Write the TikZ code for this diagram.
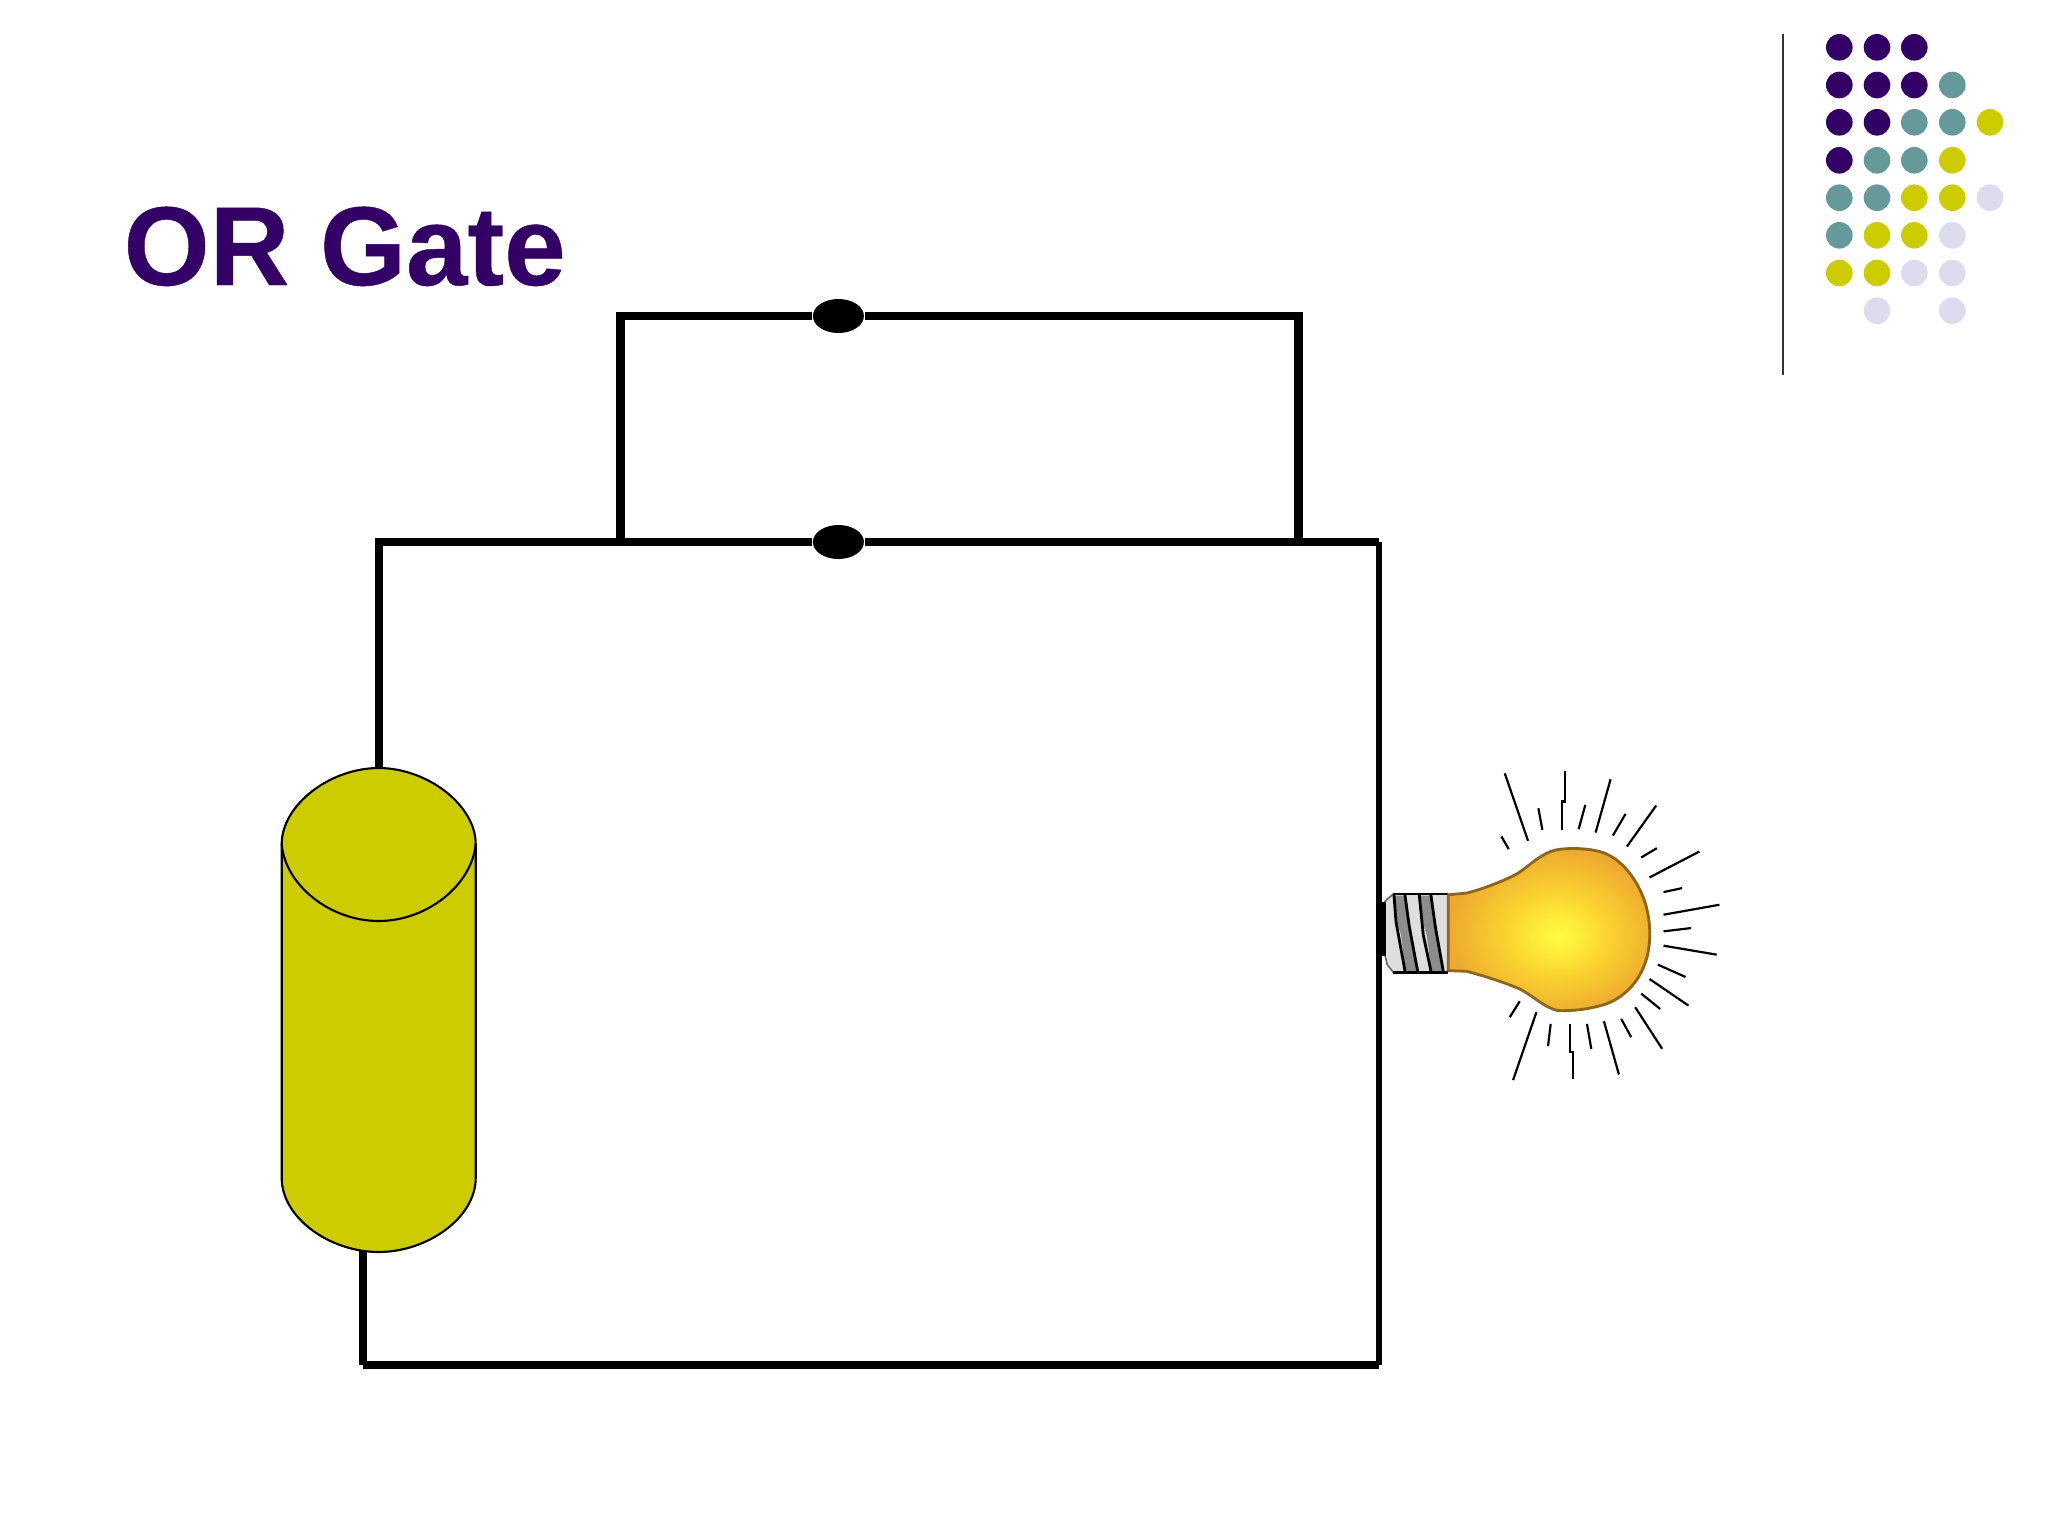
\documentclass[tikz,border=0pt]{standalone}
\usepackage{fontspec}
\setmainfont{Liberation Sans}
\newfontface\titleface[FakeBold=0.4]{Liberation Sans Bold}
\usetikzlibrary{shapes.geometric}
\definecolor{dotpurple}{HTML}{330066}
\definecolor{dotteal}{HTML}{669999}
\definecolor{dotyellow}{HTML}{CCCC00}
\definecolor{dotlav}{HTML}{DCDCEE}
\definecolor{bulbline}{HTML}{8C661A}
\definecolor{glowyellow}{HTML}{FFFF40}
\definecolor{glowmid}{HTML}{FBD530}
\definecolor{gloworange}{HTML}{EDA92F}
\pgfdeclareradialshading{bulbglow}{\pgfpoint{2.2bp}{-2.1bp}}{color(0bp)=(glowyellow); color(12bp)=(glowmid); color(26bp)=(gloworange); color(50bp)=(gloworange)}
\tikzset{
  wire/.style={line width=2.5pt,black,line join=miter},
  thinwire/.style={line width=1.9pt,black,line join=miter},
  contact/.style={ellipse,fill=black,inner sep=0pt,minimum width=0.51cm,minimum height=0.34cm},
  battery/.style={draw=black,fill=dotyellow,line width=0.6pt},
  ray/.style={line width=0.62pt,black},
  thread/.style={line width=0.8pt,black},
  pdot/.style={fill=dotpurple},
  tdot/.style={fill=dotteal},
  ydot/.style={fill=dotyellow},
  ldot/.style={fill=dotlav},
}
\newcommand{\dotat}[3]{\fill[#1] (#2,#3) circle (13.3);}
\begin{document}
\begin{tikzpicture}[x=0.01cm,y=-0.01cm]
\useasboundingbox (0,0) rectangle (2048,1536);
\fill[white] (0,0) rectangle (2048,1536);

% title
\node[anchor=base west,inner sep=0pt,text=dotpurple,xscale=0.985,font=\fontsize{31.9}{36}\titleface] (title) at (123,285) {OR Gate};

% decorative rule and dots
\draw[line width=0.6pt,color=black!80] (1783.3,34) -- (1783.3,375);
\foreach \cx/\cy/\st in {
 1839.3/47.3/pdot,1877/47.3/pdot,1914.3/47.3/pdot,
 1839.3/85/pdot,1877/85/pdot,1914.3/85/pdot,1952.3/85/tdot,
 1839.3/122.3/pdot,1877/122.3/pdot,1914.3/122.3/tdot,1952.3/122.3/tdot,1990/122.3/ydot,
 1839.3/160.3/pdot,1877/160.3/tdot,1914.3/160.3/tdot,1952.3/160.3/ydot,
 1839.3/197.7/tdot,1877/197.7/tdot,1914.3/197.7/ydot,1952.3/197.7/ydot,1990/197.7/ldot,
 1839.3/235.3/tdot,1877/235.3/ydot,1914.3/235.3/ydot,1952.3/235.3/ldot,
 1839.3/273/ydot,1877/273/ydot,1914.3/273/ldot,1952.3/273/ldot,
 1877/310.7/ldot,1952.3/310.7/ldot}
 {\dotat{\st}{\cx}{\cy}}

% circuit
\coordinate (batTop) at (379,790);
\coordinate (batBot) at (363,1240);
\coordinate (tapL) at (620.4,542);
\coordinate (tapR) at (1298.3,542);
\coordinate (cornerTR) at (1379,542);
\coordinate (cornerBR) at (1379,1365);
\coordinate (cornerBL) at (363,1365);
\node[contact] (swUp) at (838.4,316) {};
\node[contact] (swLow) at (838.4,542) {};

\draw[wire] (tapL) |- (swUp);
\draw[wire] (swUp) -| (tapR);
\draw[wire] (batTop) |- (swLow);
\draw[wire] (swLow) -- (cornerTR);
\draw[thinwire] (cornerTR) -- (cornerBR);
\draw[wire] (cornerBR) -- (cornerBL);
\draw[wire] (cornerBL) -- (batBot);

% battery
\draw[battery] (281.7,844) -- (281.7,1178)
  .. controls (281.7,1218) and (330,1252) .. (378.7,1252)
  .. controls (427,1252) and (475.7,1218) .. (475.7,1178)
  -- (475.7,844) .. controls (475.7,805) and (427,768) .. (378.7,768)
  .. controls (330,768) and (281.7,805) .. (281.7,844) -- cycle;
\draw[battery,fill=none] (281.7,844) .. controls (285,885) and (330,921) .. (378.7,921)
  .. controls (427,921) and (472,885) .. (475.7,844);

% lamp socket
\begin{scope}[shift={(1375,885)},x=0.003333cm,y=-0.003333cm]
  \fill[black!13] (55,27) -- (218,27) -- (218,262) -- (55,262) -- (37,240) -- (30,212) -- (30,50) -- (37,42) -- cycle;
  \draw[line width=0.45pt,black!60] (55,262) -- (37,240) -- (30,212) -- (30,50) -- (37,42) -- (55,27);
  \fill[black] (22,50) rectangle (34,212);
  \fill[black!45] (60,32) -- (90,32) -- (100,100) -- (130,258) -- (92,258) -- (78,150) -- (62,95) -- cycle;
  \fill[black!45] (135,32) -- (168,32) -- (180,100) -- (205,258) -- (170,258) -- (155,150) -- (140,100) -- cycle;
  \draw[thread] (57,30) -- (63,110) -- (90,258);
  \draw[thread] (90,30) -- (103,125) -- (128,258);
  \draw[thread] (133,30) -- (145,150) -- (168,258);
  \draw[thread] (168,30) -- (182,130) -- (205,258);
  \draw[line width=0.8pt,black] (55,27) -- (218,27);
  \draw[line width=0.8pt,black] (55,262) -- (218,262);
\end{scope}

% bulb
\begin{scope}[shift={(1350,740)},x=0.003333cm,y=-0.003333cm]
  \path[draw=bulbline,line width=0.8pt,shading=bulbglow,line join=round]
   (295,465) -- (350,460)
   .. controls (400,448) and (470,420) .. (505,400)
   .. controls (540,378) and (570,342) .. (620,330)
   .. controls (660,323) and (720,325) .. (760,338)
   .. controls (820,360) and (860,420) .. (880,470)
   .. controls (900,520) and (908,590) .. (893,650)
   .. controls (875,720) and (830,770) .. (770,793)
   .. controls (730,806) and (680,815) .. (625,813)
   .. controls (585,805) and (555,772) .. (510,748)
   .. controls (460,727) and (400,708) .. (350,695)
   -- (295,693) -- cycle;
  \foreach \ax/\ay/\bx/\by in {
    465/100/535/303, 783/118/738/278, 920/197/832/320, 1050/335/900/413,
    1110/495/942/525, 1102/645/942/618, 1017/798/900/718, 938/928/857/803,
    808/1005/763/845, 490/1022/560/818,
    455/290/477/328, 566/205/578/270, 707/195/687/268, 828/222/790/287,
    922/325/875/353, 998/445/942/457, 1025/565/942/575, 1008/712/925/675,
    932/808/875/762, 845/893/815/838, 725/928/712/853, 595/920/603/853,
    510/785/480/833}
    {\draw[ray] (\ax,\ay) -- (\bx,\by);}
  \draw[ray] (645,93) -- (645,185) -- (637,185) -- (637,270);
  \draw[ray] (662,853) -- (662,938) -- (671,938) -- (671,1020);
\end{scope}
\end{tikzpicture}
\end{document}
